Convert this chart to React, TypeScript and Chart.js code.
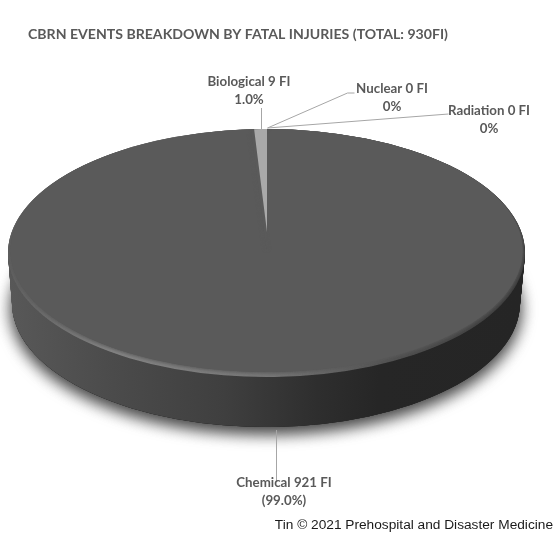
import React, { useEffect, useRef } from "react";
import { Chart, registerables } from "chart.js";

Chart.register(...registerables);

const categories = ["Chemical", "Biological", "Nuclear", "Radiation"];
const fatalInjuries = [921, 9, 0, 0];
const percentLabels = ["(99.0%)", "1.0%", "0%", "0%"];
const sliceColors = ["#5a5a5a", "#a9a9a9", "#7f7f7f", "#c0c0c0"];
const titleText = "CBRN EVENTS BREAKDOWN BY FATAL INJURIES (TOTAL: 930FI)";
const creditText = "Tin © 2021 Prehospital and Disaster Medicine";

const labelFont = "bold 13.3px Lato, Carlito, sans-serif";
const labelColor = "#595959";
const leaderColor = "#a6a6a6";

// [centre x, first line y, second line y] for each category's label
const labelSpots = [
  [284, 483, 501],
  [249, 82, 100],
  [392, 89, 107],
  [489, 111, 129],
];
// polyline of each category's leader
const leaders = [
  [[276, 430], [276, 482]],
  [[261, 108], [261, 129]],
  [[267, 128], [347, 93], [354, 93]],
  [[267, 128], [448, 114]],
];

// ellipses that the circular pie is projected on to
const topFace = { cx: 266.5, cy: 253, rx: 258.5, ry: 124 };
const innerFace = { cx: 266.5, cy: 250.5, rx: 256, ry: 121.5 };
const baseFace = { cx: 266, cy: 303, rx: 254, ry: 124 };
const sliverFace = { cx: 267, cy: 232, rx: 212, ry: 103 };

const diskPlugin = {
  id: "disk",
  beforeDatasetDraw(chart: any) {
    const ctx: CanvasRenderingContext2D = chart.ctx;
    const arcs = chart.getDatasetMeta(0).data;
    const first = arcs[0];
    const R = first.outerRadius;

    const place = (f: any) => {
      ctx.translate(f.cx, f.cy);
      ctx.scale(f.rx / R, f.ry / R);
      ctx.translate(-first.x, -first.y);
    };
    const wash = (stops: [number, string][]) => {
      const g = ctx.createLinearGradient(first.x - R, 0, first.x + R, 0);
      stops.forEach(([o, c]) => g.addColorStop(o, c));
      return g;
    };
    const paint = (arc: any, fill: any) => {
      const prev = arc.options;
      arc.options = Object.assign({}, prev, { backgroundColor: fill, borderWidth: 0 });
      arc.draw(ctx);
      arc.options = prev;
    };
    const wholeDisk = (f: any, fill: any) => {
      ctx.save();
      place(f);
      paint(arcs[0], fill);
      paint(arcs[1], fill);
      paint(arcs[0], fill);
      paint(arcs[1], fill);
      ctx.restore();
    };

    // soft ground shadow
    ctx.save();
    ctx.shadowColor = "rgba(0,0,0,0.5)";
    ctx.shadowBlur = 16;
    ctx.shadowOffsetY = 6;
    wholeDisk(baseFace, "#2a2a2a");
    ctx.restore();

    // extruded wall
    const wall: [number, string][] = [
      [0, "#585858"],
      [0.2, "#4b4b4b"],
      [0.42, "#3f3f3f"],
      [0.6, "#2e2e2e"],
      [0.72, "#262626"],
      [1, "#252525"],
    ];
    const steps = 52;
    for (let i = steps; i >= 0; i--) {
      const t = i / steps;
      const f = {
        cx: topFace.cx + (baseFace.cx - topFace.cx) * t,
        cy: topFace.cy + (baseFace.cy - topFace.cy) * t,
        rx: topFace.rx + (baseFace.rx - topFace.rx) * t,
        ry: topFace.ry + (baseFace.ry - topFace.ry) * t,
      };
      ctx.save();
      place(f);
      const fill = wash(wall);
      paint(arcs[0], fill);
      paint(arcs[1], fill);
      ctx.restore();
    }

    // bevel highlight
    ctx.save();
    place(topFace);
    const rim = wash([
      [0, "#606060"],
      [0.2, "#858585"],
      [0.5, "#787878"],
      [0.75, "#505050"],
      [1, "#3a3a3a"],
    ]);
    paint(arcs[0], rim);
    paint(arcs[1], rim);
    ctx.restore();

    // top face, feathered into the bevel
    ctx.save();
    ctx.beginPath();
    ctx.ellipse(topFace.cx, topFace.cy, topFace.rx, topFace.ry, 0, 0, Math.PI * 2);
    ctx.clip();
    ctx.shadowColor = sliceColors[0];
    ctx.shadowBlur = 4;
    wholeDisk(innerFace, sliceColors[0]);
    ctx.restore();

    // the remaining slices, centred on the perspective apex
    ctx.save();
    place(sliverFace);
    arcs.slice(1).forEach((a: any) => a.draw(ctx));
    ctx.restore();

    return false;
  },
  afterDraw(chart: any) {
    const ctx: CanvasRenderingContext2D = chart.ctx;
    ctx.save();
    ctx.strokeStyle = leaderColor;
    ctx.lineWidth = 1;
    leaders.forEach((pts) => {
      ctx.beginPath();
      pts.forEach(([x, y], i) => (i ? ctx.lineTo(x + 0.5, y) : ctx.moveTo(x + 0.5, y)));
      ctx.stroke();
    });
    ctx.font = labelFont;
    ctx.fillStyle = labelColor;
    ctx.textAlign = "center";
    ctx.textBaseline = "middle";
    categories.forEach((c, i) => {
      const [x, y1, y2] = labelSpots[i];
      ctx.fillText(`${c} ${fatalInjuries[i]} FI`, x, y1);
      ctx.fillText(percentLabels[i], x, y2);
    });
    ctx.restore();
  },
};

export default function App() {
  const ref = useRef<HTMLCanvasElement>(null);
  useEffect(() => {
    const chart = new Chart(ref.current!, {
      type: "pie",
      data: {
        labels: categories,
        datasets: [{ data: fatalInjuries, backgroundColor: sliceColors, borderWidth: 0 }],
      },
      options: {
        animation: false,
        responsive: false,
        devicePixelRatio: 1,
        layout: { padding: { left: 28, right: 2, top: 0, bottom: 3 } },
        plugins: {
          legend: { display: false },
          tooltip: { enabled: false },
          title: {
            display: true,
            text: titleText,
            align: "start",
            color: labelColor,
            font: { family: "Lato, Carlito, sans-serif", size: 14.1, weight: "bold" },
            padding: { top: 26, bottom: 10 },
          },
          subtitle: {
            display: true,
            text: creditText,
            position: "bottom",
            align: "end",
            color: "#1a1a1a",
            font: { family: "'Liberation Sans', Arial, sans-serif", size: 13.7, weight: "normal" },
            padding: { top: 0, bottom: 0 },
          },
        },
      },
      plugins: [diskPlugin],
    } as any);
    return () => chart.destroy();
  }, []);
  return (
    <canvas
      ref={ref}
      width={555}
      height={536}
      style={{ position: "absolute", left: 0, top: 0, width: 555, height: 536, background: "#fff" }}
    />
  );
}
